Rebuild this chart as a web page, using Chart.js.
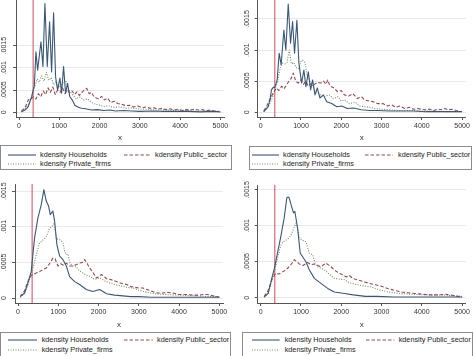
<!DOCTYPE html>
<html><head><meta charset="utf-8">
<script src="https://cdn.jsdelivr.net/npm/chart.js@4"></script>
<style>
html,body{margin:0;padding:0;background:#fff;width:474px;height:356px;overflow:hidden;position:relative;font-family:"Liberation Sans",Arial,sans-serif;}
canvas{position:absolute;}
.lg{position:absolute;border:1px solid #8c8c8c;box-sizing:border-box;background:#fff;}
.lg span{position:absolute;font-size:7.25px;color:#222;white-space:nowrap;line-height:1;transform:translateY(-50%);}
.lg svg{position:absolute;overflow:visible;}
</style></head><body>
<script>
// ---------- data ----------
const xTicks = [0, 1000, 2000, 3000, 4000, 5000];
const yTicks = [0, 0.0005, 0.001, 0.0015];
const yTickLabels = ['0', '.0005', '.001', '.0015'];
const seriesNames = ['kdensity Households', 'kdensity Public_sector', 'kdensity Private_firms'];
const cutoffX = 350;

// Panel 1 (top-left)
const hhX1 = [60,150,230,313,380,420,462,545,594,643,701,759,809,858,908,957,1015,1057,1106,1156,1205,1262,1320,1386,1460,1551,1650,1800,1950,2100,2250,2400,2600,2800,3000,3300,3600,3900,4200,4500,4800,5000];
const hhY1 = [0.00001,0.00005,0.00013,0.00035,0.0006,0.00136,0.00095,0.00159,0.00103,0.00245,0.00103,0.00204,0.00091,0.00224,0.0008,0.0005,0.00077,0.00043,0.00103,0.00043,0.00065,0.00035,0.00028,0.00016,0.00012,0.00009,0.00008,0.00005,0.00006,0.00004,0.00005,0.00003,0.00004,0.00003,0.00002,0.00003,0.00002,0.00002,0.00002,0.00001,0.00002,0.00001];
const puX1 = [60,150,230,300,360,420,480,540,600,660,720,780,840,900,960,1020,1080,1140,1200,1260,1320,1380,1440,1500,1560,1620,1680,1740,1800,1860,1920,1980,2050,2120,2200,2280,2360,2450,2550,2650,2750,2850,2950,3050,3150,3250,3350,3450,3550,3650,3750,3850,3950,4050,4150,4250,4350,4450,4550,4650,4750,4850,4950];
const puY1 = [0.00003,0.0001,0.00028,0.0003,0.00035,0.0003,0.00042,0.00035,0.00048,0.0004,0.00055,0.00045,0.00057,0.0004,0.0005,0.00045,0.00055,0.00042,0.0005,0.00044,0.00048,0.0004,0.00046,0.00038,0.00045,0.0005,0.00054,0.00042,0.00045,0.00035,0.00032,0.0003,0.00036,0.00028,0.00032,0.00022,0.00025,0.0002,0.00018,0.00015,0.00016,0.00012,0.00014,0.0001,0.00012,0.00009,0.0001,0.00007,0.00009,0.00006,0.00008,0.00005,0.00007,0.00004,0.00006,0.00005,0.00007,0.00005,0.00006,0.00004,0.00005,0.00003,0.00002];
const pfX1 = [60,150,230,300,350,400,450,500,560,620,680,740,800,860,920,980,1040,1100,1160,1220,1280,1350,1420,1500,1600,1700,1800,1900,2000,2100,2200,2350,2500,2650,2800,3000,3200,3400,3600,3800,4000,4300,4600,5000];
const pfY1 = [0.00001,0.00006,0.00018,0.0003,0.00045,0.0006,0.00075,0.00068,0.00082,0.0007,0.0009,0.00072,0.00078,0.00062,0.0007,0.00055,0.0006,0.00068,0.00072,0.00052,0.00045,0.00038,0.0003,0.00035,0.00028,0.0003,0.00022,0.00018,0.00016,0.00013,0.00015,0.00011,0.00012,0.00009,0.0001,0.00007,0.00007,0.00005,0.00006,0.00004,0.00005,0.00003,0.00003,0.00002];

// Panel 2 (top-right)
const hhX2 = [75,184,230,267,310,350,409,458,508,574,624,683,741,791,840,898,948,1015,1072,1122,1182,1239,1289,1347,1406,1471,1556,1638,1763,1888,2012,2150,2300,2500,2700,2900,3200,3500,3800,4100,4400,4700,5000];
const hhY2 = [0.00001,0.00009,0.0002,0.00036,0.0004,0.0004,0.00052,0.00095,0.00076,0.00132,0.001,0.00174,0.00111,0.00146,0.00095,0.00148,0.00079,0.00047,0.00068,0.00041,0.00065,0.00036,0.00052,0.00028,0.00039,0.00023,0.00028,0.00017,0.00014,0.00009,0.0001,0.00006,0.00007,0.00004,0.00003,0.00003,0.00002,0.00002,0.00002,0.00001,0.00001,0.00001,0.00001];
const puX2 = [75,150,224,300,392,450,520,580,641,700,760,808,870,932,1000,1060,1120,1180,1250,1320,1400,1496,1560,1620,1663,1720,1800,1912,2000,2080,2180,2287,2400,2500,2578,2700,2800,2900,3035,3150,3250,3350,3450,3576,3700,3800,3900,4075,4200,4300,4400,4500,4573,4650,4750,4850,4950];
const puY2 = [0.00002,0.0001,0.0002,0.0003,0.00039,0.00035,0.00042,0.00038,0.00044,0.0005,0.00055,0.00063,0.0005,0.00047,0.00052,0.00045,0.0005,0.00042,0.00046,0.00044,0.00048,0.00047,0.0005,0.00045,0.00052,0.00042,0.0004,0.00033,0.00035,0.00028,0.00026,0.0003,0.00022,0.00025,0.0002,0.00018,0.00017,0.00014,0.00014,0.0001,0.00012,0.00008,0.0001,0.00006,0.00008,0.00005,0.00006,0.00004,0.00005,0.00003,0.00005,0.00004,0.00006,0.00004,0.00005,0.00003,0.00002];
const pfX2 = [75,184,267,350,420,458,500,541,600,650,708,760,820,880,940,1000,1040,1100,1150,1206,1270,1332,1400,1480,1581,1700,1800,1912,2000,2080,2200,2350,2450,2578,2700,2850,3000,3200,3400,3700,4000,4300,4600,5000];
const pfY2 = [0.00001,0.00008,0.0002,0.00035,0.0005,0.00063,0.00075,0.00079,0.00078,0.0008,0.001,0.00078,0.0008,0.00072,0.0007,0.00082,0.00084,0.0008,0.0006,0.00052,0.00045,0.00036,0.00032,0.00028,0.00025,0.00028,0.00022,0.00025,0.00018,0.0002,0.00014,0.00016,0.0001,0.00009,0.00008,0.00006,0.00005,0.00004,0.00003,0.00003,0.00002,0.00002,0.00001,0.00001];

// Panel 3 (bottom-left)
const hhX3 = [54,162,244,328,410,493,577,642,701,759,801,866,908,965,1032,1115,1199,1281,1405,1530,1696,1861,2027,2200,2400,2600,2800,3000,3300,3600,4000,4400,4800,5000];
const hhY3 = [0.00002,0.00007,0.00021,0.00037,0.00084,0.00112,0.00131,0.00152,0.00136,0.00129,0.00117,0.00122,0.00108,0.00075,0.00059,0.00054,0.00045,0.0003,0.00023,0.00019,0.00012,0.00009,0.00012,0.00006,0.00004,0.00003,0.00002,0.00002,0.00001,0.00001,0.00001,0.00001,0.00001,0.00001];
const puX3 = [54,162,244,300,369,450,535,620,700,780,866,920,990,1060,1130,1199,1280,1364,1450,1530,1600,1654,1720,1779,1860,1944,2010,2068,2120,2200,2300,2400,2500,2600,2700,2800,2900,3000,3100,3200,3300,3440,3600,3700,3850,4000,4150,4350,4500,4600,4700,4850,5000];
const puY3 = [0.00002,0.0001,0.00023,0.0003,0.00033,0.00035,0.00037,0.0004,0.00042,0.00048,0.00056,0.00055,0.00045,0.00048,0.00046,0.00049,0.00045,0.00045,0.00047,0.00049,0.0005,0.00054,0.00048,0.00042,0.00036,0.00028,0.0003,0.00033,0.00031,0.00027,0.00026,0.00024,0.00022,0.0002,0.00019,0.00016,0.00015,0.00014,0.00014,0.00012,0.0001,0.00007,0.00007,0.00008,0.00007,0.00005,0.00005,0.00004,0.00004,0.00005,0.00005,0.00003,0.00001];
const pfX3 = [54,162,244,328,400,452,535,600,659,720,784,840,900,949,1000,1032,1080,1115,1160,1199,1240,1281,1350,1420,1530,1613,1700,1800,1900,2027,2150,2276,2400,2550,2700,2850,3000,3270,3600,4000,4400,4800,5000];
const pfY3 = [0.00001,0.00006,0.00018,0.00033,0.00048,0.00061,0.00077,0.0008,0.00084,0.00088,0.00098,0.001,0.00105,0.00084,0.00082,0.00082,0.0008,0.00078,0.00065,0.00061,0.00062,0.0005,0.00045,0.00045,0.00038,0.00035,0.00032,0.0003,0.00026,0.00028,0.00024,0.00021,0.00019,0.00017,0.00015,0.00014,0.00011,0.00007,0.00005,0.00004,0.00003,0.00002,0.00002];

// Panel 4 (bottom-right)
const hhX4 = [85,184,274,349,416,499,583,648,680,707,766,815,848,915,981,1040,1122,1206,1332,1496,1663,1830,2080,2300,2600,2900,3300,3700,4100,4500,5000];
const hhY4 = [0.00001,0.00006,0.00027,0.00043,0.00062,0.00085,0.00111,0.00139,0.0014,0.00139,0.00127,0.00118,0.0012,0.00097,0.00062,0.00057,0.0005,0.00039,0.00027,0.0002,0.00013,0.00008,0.00006,0.00004,0.00002,0.00002,0.00001,0.00001,0.00001,0.00001,0.00001];
const puX4 = [85,184,291,374,450,541,600,666,750,832,900,957,1050,1164,1250,1332,1420,1496,1560,1621,1700,1788,1870,1954,2040,2122,2200,2288,2400,2578,2700,2850,3000,3150,3333,3500,3650,3830,4000,4200,4400,4600,4800,5000];
const puY4 = [0.00002,0.0001,0.00027,0.00034,0.00033,0.00036,0.00038,0.00041,0.00046,0.00053,0.0005,0.00047,0.00045,0.00049,0.00046,0.00047,0.00045,0.00043,0.00046,0.00048,0.00045,0.00041,0.00037,0.00034,0.00032,0.00029,0.00031,0.00027,0.00025,0.00022,0.0002,0.00018,0.00016,0.00013,0.0001,0.00008,0.00007,0.00006,0.00005,0.00004,0.00004,0.00005,0.00003,0.00001];
const pfX4 = [85,184,274,349,416,499,560,624,700,748,810,873,920,957,1040,1122,1206,1290,1350,1414,1500,1580,1700,1830,1950,2080,2200,2330,2500,2743,2950,3160,3450,3740,4100,4400,4700,5000];
const pfY4 = [0.00001,0.00006,0.00024,0.00038,0.00055,0.00073,0.00078,0.0008,0.00083,0.00087,0.00095,0.00104,0.00095,0.00083,0.0008,0.00078,0.00062,0.0006,0.00048,0.00043,0.00041,0.00039,0.00033,0.00027,0.00026,0.00025,0.00021,0.00019,0.00017,0.00015,0.00011,0.00008,0.00006,0.00005,0.00004,0.00004,0.00003,0.00002];

// ---------- styles & layout ----------
const COL_HH = '#3a5777', COL_PU = '#944a50', COL_PF = '#6f9062', COL_CUT = '#d24a5a';
const DASH_PU = [3.5, 2], DASH_PF = [1, 1.5];
const FONT = '"Liberation Sans", Arial, sans-serif';
Chart.defaults.font.family = FONT;

const panels = [
  {left:0, top:0, w:237, h:145, yAxisW:16, padR:13, padT:0, xAxisH:28, yMin:-0.000106, yMax:0.002529, yLabX:4,
   hh:[hhX1,hhY1], pu:[puX1,puY1], pf:[pfX1,pfY1],
   lg:{left:0, top:145, w:232, h:25, r1:8.7, r2:18, s1:6.5, sw1:28, t1:39, s2:123, sw2:27, t2:154}},
  {left:237, top:0, w:237, h:145, yAxisW:20.7, padR:8.3, padT:0, xAxisH:28, yMin:-0.0000756, yMax:0.001805, yLabX:10,
   hh:[hhX2,hhY2], pu:[puX2,puY2], pf:[pfX2,pfY2],
   lg:{left:248.5, top:145.5, w:223.5, h:24.5, r1:8.5, r2:17.8, s1:2, sw1:27, t1:33.5, s2:115.5, sw2:28, t2:148.5}},
  {left:0, top:178, w:237, h:154, yAxisW:15, padR:14, padT:6, xAxisH:29, yMin:-0.00007, yMax:0.0016, yLabX:4,
   hh:[hhX3,hhY3], pu:[puX3,puY3], pf:[pfX3,pfY3],
   lg:{left:0, top:332.3, w:230.5, h:26, r1:6.7, r2:16.7, s1:6.7, sw1:29, t1:40.7, s2:123, sw2:28.7, t2:156}},
  {left:237, top:178, w:237, h:154, yAxisW:20.7, padR:8.3, padT:7, xAxisH:29, yMin:-0.0000726, yMax:0.001568, yLabX:10,
   hh:[hhX4,hhY4], pu:[puX4,puY4], pf:[pfX4,pfY4],
   lg:{left:242, top:332, w:231, h:26, r1:7, r2:16.7, s1:9, sw1:27.7, t1:41.7, s2:123.3, sw2:28.4, t2:155.7}}
];

function pts(xs, ys){ return xs.map((x,i)=>({x:x, y:ys[i]})); }

function sample(parent, x, y, w, color, dash){
  const ns='http://www.w3.org/2000/svg';
  const svg=document.createElementNS(ns,'svg');
  svg.setAttribute('width', w); svg.setAttribute('height', 4);
  svg.style.left = x+'px'; svg.style.top = (y-2)+'px';
  const ln=document.createElementNS(ns,'line');
  ln.setAttribute('x1',0); ln.setAttribute('y1',2); ln.setAttribute('x2',w); ln.setAttribute('y2',2);
  ln.setAttribute('stroke',color); ln.setAttribute('stroke-width',1.1);
  if (dash) ln.setAttribute('stroke-dasharray', dash.join(' '));
  svg.appendChild(ln); parent.appendChild(svg);
}
function label(parent, x, y, txt){
  const s=document.createElement('span'); s.textContent=txt;
  s.style.left=x+'px'; s.style.top=y+'px'; parent.appendChild(s);
}

function makePanel(p){
  const cv=document.createElement('canvas');
  cv.width=p.w; cv.height=p.h;
  cv.style.left=p.left+'px'; cv.style.top=p.top+'px';
  cv.style.width=p.w+'px'; cv.style.height=p.h+'px';
  document.body.appendChild(cv);

  const yLabelPlugin = {
    id:'ylabels',
    afterDraw(chart){
      const ctx=chart.ctx, s=chart.scales.y;
      ctx.save();
      ctx.font='7px '+FONT; ctx.fillStyle='#333';
      ctx.textAlign='center'; ctx.textBaseline='middle';
      yTicks.forEach((v,i)=>{
        const y=s.getPixelForValue(v);
        ctx.save(); ctx.translate(p.yLabX, y); ctx.rotate(-Math.PI/2);
        ctx.fillText(yTickLabels[i],0,0); ctx.restore();
      });
      ctx.restore();
    }
  };

  new Chart(cv, {
    type:'line',
    data:{datasets:[
      {label:seriesNames[0], data:pts(p.hh[0],p.hh[1]), borderColor:COL_HH, borderWidth:1.1},
      {label:seriesNames[1], data:pts(p.pu[0],p.pu[1]), borderColor:COL_PU, borderWidth:1.1, borderDash:DASH_PU},
      {label:seriesNames[2], data:pts(p.pf[0],p.pf[1]), borderColor:COL_PF, borderWidth:1.1, borderDash:DASH_PF},
      {label:'cutoff', data:[{x:cutoffX,y:p.yMin},{x:cutoffX,y:p.yMax}], borderColor:COL_CUT, borderWidth:1}
    ]},
    options:{
      responsive:false, animation:false, devicePixelRatio:1,
      layout:{padding:{left:0,right:p.padR,top:p.padT,bottom:0}},
      plugins:{legend:{display:false}, tooltip:{enabled:false}},
      elements:{point:{radius:0}, line:{tension:0, fill:false, borderJoinStyle:'round'}},
      scales:{
        x:{type:'linear', min:-75, max:5090,
          afterBuildTicks:s=>{s.ticks=xTicks.map(v=>({value:v}));},
          afterFit:s=>{s.height=p.xAxisH; s.paddingLeft=0; s.paddingRight=0;},
          ticks:{autoSkip:false, maxRotation:0, padding:2, color:'#333', font:{size:7}, callback:v=>String(v)},
          grid:{drawOnChartArea:false, drawTicks:true, tickLength:3, tickColor:'#555', color:'#555'},
          border:{display:true, color:'#555', width:1},
          title:{display:true, text:'x', color:'#333', font:{size:8}, padding:{top:0,bottom:2.7}}
        },
        y:{type:'linear', min:p.yMin, max:p.yMax,
          afterBuildTicks:s=>{s.ticks=yTicks.map(v=>({value:v}));},
          afterFit:s=>{s.width=p.yAxisW; s.paddingTop=0; s.paddingBottom=0;},
          ticks:{display:false},
          grid:{color:'#e9e9e9', lineWidth:1, drawTicks:true, tickLength:3, tickColor:'#555'},
          border:{display:true, color:'#555', width:1}
        }
      }
    },
    plugins:[yLabelPlugin]
  });

  const L=p.lg;
  const box=document.createElement('div'); box.className='lg';
  box.style.left=L.left+'px'; box.style.top=L.top+'px';
  box.style.width=L.w+'px'; box.style.height=L.h+'px';
  document.body.appendChild(box);
  sample(box, L.s1, L.r1, L.sw1, COL_HH, null);
  label(box, L.t1, L.r1, seriesNames[0]);
  sample(box, L.s2, L.r1, L.sw2, COL_PU, DASH_PU);
  label(box, L.t2, L.r1, seriesNames[1]);
  sample(box, L.s1, L.r2, L.sw1, COL_PF, DASH_PF);
  label(box, L.t1, L.r2, seriesNames[2]);
}

panels.forEach(makePanel);
</script>
</body></html>
